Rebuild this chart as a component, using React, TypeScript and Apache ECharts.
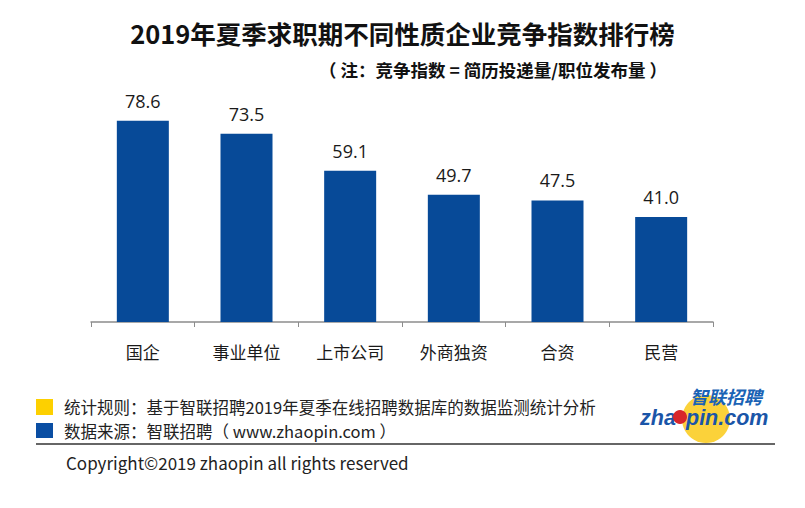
import React, { useEffect, useRef } from "react";
import * as echarts from "echarts";

const categories = ["国企", "事业单位", "上市公司", "外商独资", "合资", "民营"];
const indexValues = [78.6, 73.5, 59.1, 49.7, 47.5, 41.0];

const titleText = "2019年夏季求职期不同性质企业竞争指数排行榜";
const subtitleText = "（ 注：竞争指数 = 简历投递量/职位发布量 ）";
const ruleText = "统计规则：基于智联招聘2019年夏季在线招聘数据库的数据监测统计分析";
const sourceText = "数据来源：智联招聘（ www.zhaopin.com ）";
const copyrightText = "Copyright©2019 zhaopin all rights reserved";

const FONT = '"Noto Sans CJK SC", "Open Sans", sans-serif';
const LOGO_FONT = 'italic bold 21.5px "Liberation Sans", Arial, sans-serif';
const BLUE = "#074a98";

export default function App() {
  const ref = useRef<HTMLDivElement>(null);

  useEffect(() => {
    if (!ref.current) return;
    const chart = echarts.init(ref.current, undefined, { renderer: "svg" });
    chart.setOption({
      animation: false,
      backgroundColor: "#ffffff",
      grid: { left: 91, right: 92, top: 66, height: 256 },
      xAxis: {
        type: "category",
        data: categories,
        axisLine: { lineStyle: { color: "#8c8c8c", width: 1.5 } },
        axisTick: { show: true, length: 5, alignWithLabel: false, lineStyle: { color: "#8c8c8c" } },
        axisLabel: { color: "#1a1a1a", fontSize: 17, fontFamily: FONT, margin: 21 },
      },
      yAxis: {
        type: "value",
        min: 0,
        max: 100,
        show: false,
        splitLine: { show: false },
      },
      series: [
        {
          type: "bar",
          data: indexValues,
          barWidth: 52,
          itemStyle: { color: BLUE },
          label: {
            show: true,
            position: "top",
            distance: 11,
            color: "#1a1a1a",
            fontSize: 18,
            fontFamily: '"Open Sans", sans-serif',
            formatter: (p: any) => Number(p.value).toFixed(1),
          },
        },
      ],
      graphic: [
        {
          type: "text",
          left: "center",
          top: 20,
          style: { text: titleText, font: `bold 25.5px ${FONT}`, fill: "#111" },
        },
        {
          type: "text",
          right: 138,
          top: 61,
          style: { text: subtitleText, font: `bold 17.5px ${FONT}`, fill: "#111" },
        },
        { type: "rect", shape: { x: 36, y: 399, width: 17, height: 16 }, style: { fill: "#fdd000" } },
        { type: "rect", shape: { x: 36, y: 423, width: 17, height: 15 }, style: { fill: "#0a4ea3" } },
        {
          type: "text",
          x: 64,
          y: 407,
          style: { text: ruleText, font: `16.5px ${FONT}`, fill: "#222", verticalAlign: "middle" },
        },
        {
          type: "text",
          x: 64,
          y: 431,
          style: { text: sourceText, font: `16.5px ${FONT}`, fill: "#222", verticalAlign: "middle" },
        },
        {
          type: "line",
          shape: { x1: 36, y1: 444, x2: 775, y2: 444 },
          style: { stroke: "#333", lineWidth: 1.5 },
        },
        {
          type: "text",
          x: 66,
          y: 462,
          style: { text: copyrightText, font: `17px ${FONT}`, fill: "#222", verticalAlign: "middle" },
        },
        // zhaopin logo
        {
          type: "group",
          children: [
            { type: "circle", shape: { cx: 706, cy: 419, r: 24 }, style: { fill: "#fbd23a" } },
            {
              type: "text",
              x: 690,
              y: 396,
              style: {
                text: "智联招聘",
                font: `italic bold 18px ${FONT}`,
                lineHeight: 16,
                fill: "#1a63b5",
                verticalAlign: "middle",
              },
            },
            {
              type: "text",
              x: 640,
              y: 418,
              style: { text: "zha", font: LOGO_FONT, lineHeight: 17, fill: "#1a55a8", verticalAlign: "middle" },
            },
            {
              type: "text",
              x: 686,
              y: 418,
              style: { text: "pin.com", font: LOGO_FONT, lineHeight: 17, fill: "#1a55a8", verticalAlign: "middle" },
            },
            { type: "circle", shape: { cx: 680, cy: 417, r: 7 }, style: { fill: "#d8262b" } },
          ],
        },
      ],
    });
    return () => chart.dispose();
  }, []);

  return (
    <div
      ref={ref}
      style={{ position: "absolute", left: 0, top: 0, width: 805, height: 508 }}
    />
  );
}
